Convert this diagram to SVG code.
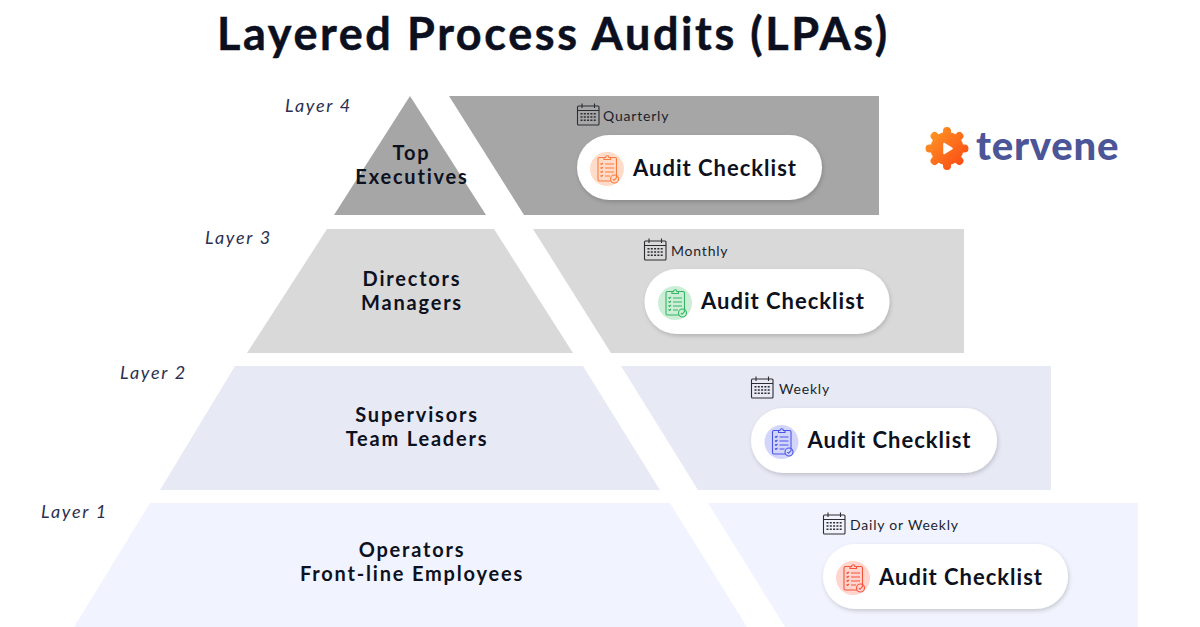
<svg xmlns="http://www.w3.org/2000/svg" width="1200" height="627" viewBox="0 0 1200 627">
<defs>
<style>
text{font-family:Lato,"Liberation Sans",sans-serif}
.title{font-size:45px;font-weight:700;fill:#0b0f1e;letter-spacing:2.6px;stroke:#0b0f1e;stroke-width:.5px}
.role{font-size:20px;font-weight:700;fill:#0d1120;letter-spacing:1.8px;text-anchor:middle}
.layer{font-size:18px;font-style:italic;fill:#2b3050;letter-spacing:1.7px;font-weight:400}
.freq{font-size:14px;fill:#1c1f2c;letter-spacing:.8px}
.audit{font-size:22px;font-weight:700;fill:#0d1120;letter-spacing:1px}
.pill{fill:#fff;filter:url(#sh)}
</style>
<filter id="sh" x="-10%" y="-20%" width="120%" height="150%"><feDropShadow dx="1" dy="2" stdDeviation="2" flood-color="#000" flood-opacity=".18"/></filter>
<linearGradient id="gear" gradientUnits="userSpaceOnUse" x1="928" y1="130" x2="966" y2="168"><stop offset="0" stop-color="#ff9a24"/><stop offset="1" stop-color="#fa4513"/></linearGradient>
<symbol id="cal" viewBox="0 0 23 23" overflow="visible">
<g fill="none" stroke="#2c2c33" stroke-width="1.1">
<rect x=".5" y="3" width="21.5" height="19" rx="1"/>
<path d="M.5 7.5H22M5 .5V5M17.500 .5V5"/>
</g>
<g fill="#2c2c33">
<path d="M3.500 10h2v1.600h-2zM6.800 10h2v1.600h-2zM10.100 10h2v1.600h-2zM13.400 10h2v1.600h-2zM16.700 10h2v1.600h-2zM3.500 13.200h2v1.600h-2zM6.800 13.200h2v1.600h-2zM10.100 13.200h2v1.600h-2zM13.400 13.200h2v1.600h-2zM16.700 13.200h2v1.600h-2zM3.500 16.400h2v1.600h-2zM6.800 16.400h2v1.600h-2zM10.100 16.400h2v1.600h-2zM13.400 16.400h2v1.600h-2zM16.700 16.400h2v1.600h-2z"/>
</g>
</symbol>
<symbol id="clip" viewBox="0 0 34 34" overflow="visible">
<circle cx="17" cy="17" r="17" fill="var(--bg)"/>
<g fill="none" stroke="var(--fg)" stroke-width="1.100">
<path d="M20.500 5.500h4.500a1.500 1.500 0 0 1 1.500 1.500v19M21 29H9.500A1.500 1.500 0 0 1 8 27.500V7a1.500 1.500 0 0 1 1.500-1.500H14"/>
<path d="M14 7.500V5.500h1.500a1.700 1.700 0 0 1 3.400 0h1.600v2z"/>
<path d="M10.500 11.500l1 1 1.500-1.500M10.500 15.500l1 1 1.500-1.500M10.500 19.500l1 1 1.500-1.500M10.500 23.500l1 1 1.500-1.500M15 12h9M15 16h9M15 20h9M15 24h5"/>
<circle cx="24.500" cy="27" r="4"/>
<path d="M22.800 27l1.200 1.300 2.300-2.400"/>
</g>
</symbol>
</defs>

<text class="title" x="217" y="50">Layered Process Audits (LPAs)</text>

<g id="connectors"></g>

<g id="layer4">
<path d="M410 96L486 215H334Z" fill="#a6a6a6"/>
<path d="M449 96H879V215H524Z" fill="#a6a6a6"/>
<text class="layer" x="285" y="112">Layer 4</text>
<text class="role" x="411.500" y="160">Top</text>
<text class="role" x="412" y="184">Executives</text>
<use href="#cal" x="577" y="103" width="23" height="23"/>
<text class="freq" x="603" y="121">Quarterly</text>
<rect class="pill" x="577" y="135" width="245" height="65" rx="32.500"/>
<use href="#clip" x="590" y="152" width="34" height="34" style="--bg:#ffdcc9;--fg:#fb7a3d"/>
<text class="audit" x="633" y="176">Audit Checklist</text>
</g>

<g id="layer3">
<path d="M327 229H494L573 353H247Z" fill="#d9d9d9"/>
<path d="M533 229H964V353H611Z" fill="#d9d9d9"/>
<text class="layer" x="205" y="244">Layer 3</text>
<text class="role" x="412" y="286">Directors</text>
<text class="role" x="412" y="310">Managers</text>
<use href="#cal" x="644" y="238" width="23" height="23"/>
<text class="freq" x="671" y="256">Monthly</text>
<rect class="pill" x="644.500" y="269" width="245" height="65" rx="32.500"/>
<use href="#clip" x="658" y="286" width="34" height="34" style="--bg:#cdeed6;--fg:#35b565"/>
<text class="audit" x="701" y="309">Audit Checklist</text>
</g>

<g id="layer2">
<path d="M235 366H583L660 490H160Z" fill="#e7e9f5"/>
<path d="M621 366H1051V490H698Z" fill="#e7e9f5"/>
<text class="layer" x="120" y="379">Layer 2</text>
<text class="role" x="417" y="422">Supervisors</text>
<text class="role" x="417" y="446">Team Leaders</text>
<use href="#cal" x="751" y="376" width="23" height="23"/>
<text class="freq" x="779" y="394">Weekly</text>
<rect class="pill" x="751" y="408" width="246" height="65" rx="32.500"/>
<use href="#clip" x="764.500" y="425" width="34" height="34" style="--bg:#d3d6fa;--fg:#4a55e8"/>
<text class="audit" x="807.500" y="448">Audit Checklist</text>
</g>

<g id="layer1">
<path d="M150 503H670L747 627H74Z" fill="#f1f4fe"/>
<path d="M708 503H1138V627H785Z" fill="#f1f4fe"/>
<text class="layer" x="41" y="518">Layer 1</text>
<text class="role" x="412" y="557">Operators</text>
<text class="role" x="412" y="581">Front-line Employees</text>
<use href="#cal" x="823" y="512" width="23" height="23"/>
<text class="freq" x="850" y="530">Daily or Weekly</text>
<rect class="pill" x="823" y="544" width="245" height="65" rx="32.500"/>
<use href="#clip" x="836" y="561" width="34" height="34" style="--bg:#ffd5cd;--fg:#f5523c"/>
<text class="audit" x="879" y="585">Audit Checklist</text>
</g>

<g id="logo">
<circle cx="947" cy="148.500" r="16.500" fill="url(#gear)"/>
<path d="M947 148.500V131M947 148.500V166M947 148.500H929.500M947 148.500H964.500M947 148.500L934.600 136.100M947 148.500L959.400 136.100M947 148.500L934.600 160.900M947 148.500L959.400 160.900" stroke="url(#gear)" stroke-width="8" stroke-linecap="round" fill="none"/>
<path fill="#fff" stroke="#fff" stroke-width="1.500" stroke-linejoin="round" d="M944 143.500l8 5-8 5z"/>
<text x="976" y="160" font-size="40" font-weight="900" fill="#4b5597" letter-spacing=".8">tervene</text>
</g>
</svg>
